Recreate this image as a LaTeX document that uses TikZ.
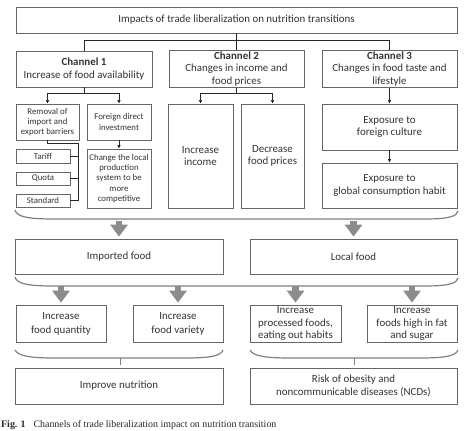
\documentclass[tikz,border=0pt]{standalone}
\usepackage{fontspec}
\setmainfont{Carlito}
\newfontfamily\capfont{Liberation Serif}
\usetikzlibrary{arrows.meta}
\begin{document}
\begin{tikzpicture}[x=1pt,y=-1pt,
  box/.style={draw=black!60, line width=0.8pt, fill=white, text=black!80, align=center, inner sep=1pt, font=\fontsize{10.9}{12.4}\selectfont},
  sbox/.style={box, font=\fontsize{8.8}{10.3}\selectfont},
  conn/.style={draw=black!85, line width=0.8pt},
  arr/.style={conn, -{Latex[length=3.5pt,width=3.5pt]}},
  bracket/.style={draw=black!50, line width=1.2pt},
  bigarr/.style={draw=black!45, line width=6.5pt, -{Triangle[length=12pt,width=17pt]}, shorten >=2pt},
]
\useasboundingbox (0,0) rectangle (474,431);

% title and channels
\node[box, minimum width=441pt, minimum height=26pt] (title) at (236.5,20) {Impacts of trade liberalization on nutrition transitions};
\node[box, minimum width=136pt, minimum height=36pt] (ch1) at (84,69) {\textbf{Channel 1}\\Increase of food availability};
\node[box, minimum width=135pt, minimum height=36pt] (ch2) at (236.5,69) {\textbf{Channel 2}\\Changes in income and\\food prices};
\node[box, minimum width=135pt, minimum height=36pt] (ch3) at (389.5,69) {\textbf{Channel 3}\\Changes in food taste and\\lifestyle};

% channel 1 details
\node[sbox, minimum width=63pt, minimum height=36pt] (removal) at (47.5,122) {Removal of\\import and\\export barriers};
\node[sbox, minimum width=64pt, minimum height=36pt] (fdi) at (119,122) {Foreign direct\\investment};
\node[sbox, minimum width=64pt, minimum height=59pt] (change) at (119,178.5) {Change the local\\production\\system to be\\more\\competitive};
\node[sbox, minimum width=54pt, minimum height=14pt] (tariff) at (43,156) {Tariff};
\node[sbox, minimum width=54pt, minimum height=13pt] (quota) at (43,178.5) {Quota};
\node[sbox, minimum width=54pt, minimum height=13pt] (standard) at (43,200.5) {Standard};

% channel 2 details
\node[box, minimum width=65pt, minimum height=104pt] (income) at (200.5,156) {Increase\\income};
\node[box, minimum width=63pt, minimum height=104pt] (prices) at (272.5,156) {Decrease\\food prices};

% channel 3 details
\node[box, minimum width=135pt, minimum height=46pt] (foreign) at (389.5,127) {Exposure to\\foreign culture};
\node[box, minimum width=135pt, minimum height=45pt] (global) at (389.5,185.5) {Exposure to\\global consumption habit};

% food
\node[box, minimum width=208pt, minimum height=35pt] (imported) at (119,256.5) {Imported food};
\node[box, minimum width=207pt, minimum height=35pt] (local) at (353.5,256.5) {Local food};

% effects
\node[box, minimum width=90pt, minimum height=37pt] (b1) at (61,323.5) {Increase\\[1.5pt]food quantity};
\node[box, minimum width=90pt, minimum height=37pt] (b2) at (178,323.5) {Increase\\[1.5pt]food variety};
\node[box, minimum width=91pt, minimum height=37pt] (b3) at (295.5,323.5) {Increase\\processed foods,\\eating out habits};
\node[box, minimum width=90pt, minimum height=37pt] (b4) at (412,323.5) {Increase\\foods high in fat\\and sugar};

% outcomes
\node[box, minimum width=208pt, minimum height=36pt] (improve) at (119,386) {Improve nutrition};
\node[box, minimum width=207pt, minimum height=36pt] (risk) at (353.5,386) {Risk of obesity and\\noncommunicable diseases (NCDs)};

% connectors top
\coordinate (bar) at (0,40);
\coordinate (r1) at (0,93);
\coordinate (rb) at (78,0);
\draw[conn] (title.south) -- (ch2.north);
\draw[conn] (ch1.north) |- (ch3.north|-bar) -- (ch3.north);

\draw[arr] (ch1.south) -- (ch1.south|-r1) -| (removal.north);
\draw[arr] (ch1.south|-r1) -| (fdi.north);
\draw[arr] (fdi.south) -- (change.north);

\draw[conn] (removal.south) -- ++(0,3) -| (rb|-standard.east) -- (standard.east);
\draw[conn] (tariff.east) -- (rb|-tariff.east);
\draw[conn] (quota.east) -- (rb|-quota.east);

\draw[arr] (ch2.south) -- (ch2.south|-r1) -| (income.north);
\draw[arr] (ch2.south|-r1) -| (prices.north);

\draw[arr] (ch3.south) -- (foreign.north);
\draw[arr] (foreign.south) -- (global.north);

% brackets
\draw[bracket] (15,210) .. controls (17,217) and (28,219) .. (55,219) -- (425,219) .. controls (450,219) and (457,216) .. (458,211);
\draw[bracket] (15,277) .. controls (17,284) and (28,286) .. (55,286) -- (425,286) .. controls (450,286) and (457,283) .. (458,278);
\draw[bracket] (15,350) .. controls (18,356) and (30,358) .. (55,358) -- (185,358) .. controls (210,358) and (221,356) .. (223,350);
\draw[bracket] (250,350) .. controls (253,356) and (265,358) .. (290,358) -- (420,358) .. controls (445,358) and (456,356) .. (458,350);
\coordinate (t1) at (120,358);
\coordinate (t2) at (354,358);
\draw[bracket, line width=1pt] (t1) -- ++(0,7);
\draw[bracket, line width=1pt] (t2) -- ++(0,7);

% big arrows
\draw[bigarr] ([yshift=18pt]imported.north) -- (imported.north);
\draw[bigarr] ([yshift=18pt]local.north) -- (local.north);
\draw[bigarr] ([yshift=19pt]b1.north) -- (b1.north);
\draw[bigarr] ([yshift=19pt]b2.north) -- (b2.north);
\draw[bigarr] ([yshift=19pt]b3.north) -- (b3.north);
\draw[bigarr] ([yshift=19pt]b4.north) -- (b4.north);

% caption
\node[anchor=west, inner sep=0pt, text=black!85, font=\capfont\fontsize{9.9}{12}\selectfont] (cap) at (1,425) {\textbf{Fig. 1}\hspace{0.8em}Channels of trade liberalization impact on nutrition transition};
\end{tikzpicture}
\end{document}
